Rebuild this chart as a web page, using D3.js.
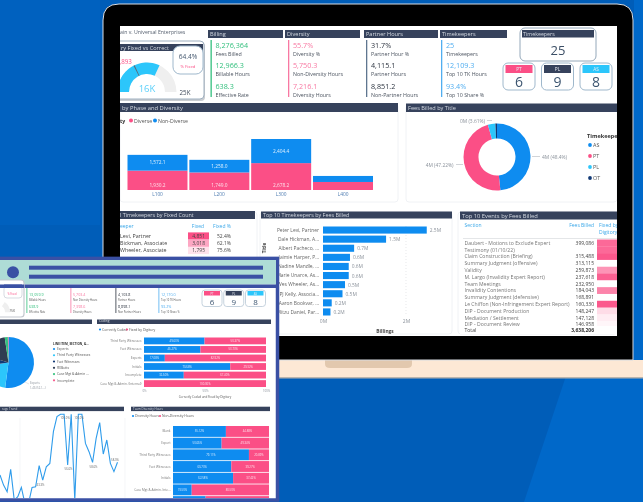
<!DOCTYPE html>
<html>
<head>
<meta charset="utf-8">
<script src="https://cdn.jsdelivr.net/npm/d3@7"></script>
<style>
  html, body { margin: 0; padding: 0; background: #0060be; overflow: hidden; }
  svg { display: block; }
  text { font-family: "Open Sans", sans-serif; }
  .axis path, .axis line { display: none; }
</style>
</head>
<body>
<svg id="chart" width="643" height="502"></svg>
<script>
// kpi cards on the monitor
const billingKpi = [['8,276,364', 'Fees Billed'], ['12,966.3', 'Billable Hours'], ['638.3', 'Effective Rate']]
const diversityKpi = [['55.7%', 'Diversity %'], ['5,750.3', 'Non-Diversity Hours'], ['7,216.1', 'Diversity Hours']]
const partnerKpi = [['31.7%', 'Partner Hour %'], ['4,115.1', 'Partner Hours'], ['8,851.2', 'Non-Partner Hours']]
const tkKpi = [['25', 'Timekeepers'], ['12,109.3', 'Top 10 TK Hours'], ['93.4%', 'Top 10 Share %']]
const titleCounts = [['PT', 6], ['PL', 9], ['AS', 8]]

// hours by phase
const phases = ['L100', 'L200', 'L300', 'L400']
const diverseHours = [1930.2, 1749.0, 2678.2, 800]
const nonDiverseHours = [1572.1, 1258.0, 2404.4, 600]

// fees by title
const titleNames = ['AS', 'PT', 'PL', 'OT']
const titleShare = [48.4, 47.22, 3.61, 0.77]

// timekeeper table
const fixedNames = ['Levi, Partner', 'Bickman, Associate', 'Wheeler, Associate']
const fixedCounts = [4851, 3018, 1795]
const fixedPct = ['52.4%', '62.1%', '75.6%']

// top 10 timekeepers
const topNames = ['Peter Levi, Partner', 'Dale Hickman, A...', 'Albert Pacheco, ...', 'Jaimie Harper, P...', 'Nadine Mandle, ...', 'Marie Unarce, As...', 'Wes Wheeler, As...', 'PJ Kelly, Associa...', 'Aaron Bookvar, ...', 'Mitzu Daniel, Par...']
const topFees = [2.5, 1.52, 0.75, 0.65, 0.62, 0.62, 0.53, 0.47, 0.21, 0.18]
const topLabels = ['2.5M', '1.5M', '0.7M', '0.6M', '0.6M', '0.6M', '0.5M', '0.5M', '0.2M', '0.2M']

// top 10 events
const eventNames = ['Daubert - Motions to Exclude Expert', 'Testimony (01/10/22)', 'Claim Construction (Briefing)', 'Summary Judgment (offensive)', 'Validity', 'M. Largo (Invalidity Expert Report)', 'Team Meetings', 'Invalidity Contentions', 'Summary Judgment (defensive)', 'Le Chiffon (Non-Infringement Expert Report)', 'DIP - Document Production', 'Mediation / Settlement', 'DIP - Document Review']
const eventFees = ['399,086', '', '315,488', '313,115', '259,873', '237,618', '232,950', '184,043', '168,891', '160,330', '148,247', '147,128', '146,958']
const eventFixed = [0.85, 0.85, 0.95, 0, 0.6, 0.9, 0, 0.7, 0, 0.95, 0.2, 0.1, 0.05]

// second window
const winKpi = [
  ['13,059.9', 'Billable Hours', '638.9', 'Effective Rate'],
  ['5,703.4', 'Non Diversity Hours', '7,398.6', 'Diversity Hours'],
  ['4,103.8', 'Partner Hours', '8,898.1', 'Non Partner Hours'],
  ['12,170.0', 'Top 10 TK Hours', '93.2%', 'Top 10 Share %']
]
const sectionNames = ['Experts', 'Third Party Witnesses', 'Fact Witnesses', 'RXBotts', 'Case Mgt & Admin ...', 'Incomplete']
const sectionShare = [52.1, 20.5, 7, 18, 2, 0.4]
const codingNames = ['Third Party Witnesses', 'Fact Witnesses', 'Experts', 'Initials', 'Incomplete', 'Case Mgt & Admin. (Internal)']
const codingCorrect = [49.63, 46.27, 17.08, 70.68, 32.6, 0]
const trendValues = [48, 39.4, 33.7, 52.9, 26.6, 29.4, 37.4, 23.7, 23.7, 37.4, 38, 56, 43.7, 55.1, 58, 85.1, 98, 100, 100, 56.6, 100, 26.6, 100, 100, 75.1, 68, 58.9, 79.4, 92.9, 66, 78, 58, 50.9, 58.9]
const teamNames = ['Blank', 'Expert', 'Third Party Witnesses', 'Fact Witnesses', 'Initials', 'Case Mgt & Admin. Inte...', 'Incomplete']
const teamDiversity = [55.12, 50.66, 79.11, 60.73, 62.58, 19.5, 34]

const PINK = '#fb4f86', BLUE = '#0e8cf0', SKY = '#2cc6fb', NAVY = '#36425c', INK = '#555f6e', GREY = '#8b929b'
const FRAME = '#3a50a4'

const svg = d3.select('#chart')
const defs = svg.append('defs')
defs.append('clipPath').attr('id', 'screenClip').append('rect')
  .attr('x', 120).attr('y', 26).attr('width', 497).attr('height', 310)
defs.append('clipPath').attr('id', 'winClip').append('rect')
  .attr('x', 0).attr('y', 260).attr('width', 276).attr('height', 238)

const root = svg.append('g').style('filter', 'blur(0.55px)')

function label(g, x, y, txt, size, fill, anchor, weight) {
  return g.append('text').attr('x', x).attr('y', y).text(txt)
    .attr('font-size', size).attr('fill', fill || INK)
    .attr('text-anchor', anchor || 'start').attr('font-weight', weight || 400)
}

function head(g, x, y, w, h, txt, size) {
  g.append('rect').attr('x', x).attr('y', y).attr('width', w).attr('height', h).attr('fill', NAVY)
  label(g, x + 2, y + h - 1.6, txt, size || 5.6, '#d5dae2')
}

function card(g, x, y, w, h) {
  g.append('rect').attr('x', x).attr('y', y).attr('width', w).attr('height', h).attr('rx', 3)
    .attr('fill', '#fff').attr('stroke', '#f0f2f5').attr('stroke-width', 1)
}

function dot(g, x, y, fill, r) {
  g.append('circle').attr('cx', x).attr('cy', y).attr('r', r || 1.8).attr('fill', fill)
}

// background
root.append('rect').attr('width', 643).attr('height', 502).attr('fill', '#005db8')
root.append('path').attr('d', 'M568,370 L643,370 L643,502 L524,502 Z').attr('fill', '#0068c9')
root.append('path').attr('d', 'M0,0 L100,0 L100,225 L0,225 Z').attr('fill', '#0061bf')
root.append('path').attr('d', 'M634,0 L643,0 L643,360 L634,360 Z').attr('fill', '#0068c9')

// base of the monitor
root.append('rect').attr('x', 100).attr('y', 360).attr('width', 543).attr('height', 18).attr('fill', '#fde8d5')
root.append('rect').attr('x', 100).attr('y', 377).attr('width', 543).attr('height', 1.5).attr('fill', '#b9b4ae')
root.append('path').attr('d', 'M325,360 H412 V364 Q412,368 407,368 H330 Q325,368 325,364 Z').attr('fill', '#e2c8ae')

// monitor body
root.append('path')
  .attr('d', 'M103,360 V20 Q103,4 119,4 H617 Q633,4 633,20 V360 Z')
  .attr('fill', '#000').attr('stroke', '#d8dce2').attr('stroke-width', 1)
root.append('rect').attr('x', 120).attr('y', 26).attr('width', 497).attr('height', 310).attr('fill', '#fff')

const screen = root.append('g').attr('clip-path', 'url(#screenClip)')

label(screen, 120, 33.5, 'ain v. Universal Enterprises', 5.2, INK)
head(screen, 208, 30, 75, 8, 'Billing')
head(screen, 285, 30, 75, 8, 'Diversity')
head(screen, 364, 30, 74, 8, 'Partner Hours')
head(screen, 440, 30, 67, 8, 'Timekeepers')

function kpiBlock(g, x, rows, color, valueSize, labelSize, rowYs, barTop, barBottom) {
  g.append('rect').attr('x', x).attr('y', barTop).attr('width', 1.3).attr('height', barBottom - barTop).attr('fill', color)
  rows.forEach((r, i) => {
    label(g, x + 5, rowYs[i], r[0], valueSize, color === '#5f7690' ? '#2d3440' : color)
    label(g, x + 5, rowYs[i] + 8.2, r[1], labelSize, '#4c5460')
  })
}
const kpiRows = [47.8, 67.8, 88.6]
kpiBlock(screen, 210.5, billingKpi, '#35c07f', 7.2, 5.3, kpiRows, 40, 97)
kpiBlock(screen, 288, diversityKpi, '#f878a2', 7.2, 5.3, kpiRows, 40, 97)
kpiBlock(screen, 366, partnerKpi, '#5f7690', 7.2, 5.3, kpiRows, 40, 97)
kpiBlock(screen, 441, tkKpi, '#51aef0', 7.2, 5.3, kpiRows, 40, 97)

// gauge card
screen.append('rect').attr('x', 105).attr('y', 42).attr('width', 100).attr('height', 59).attr('rx', 4).attr('fill', '#c9ccd0')
screen.append('rect').attr('x', 105).attr('y', 41).attr('width', 99).attr('height', 58).attr('rx', 4)
  .attr('fill', '#fff').attr('stroke', '#9fb0c0').attr('stroke-width', 1)
screen.append('rect').attr('x', 105).attr('y', 44).attr('width', 98).attr('height', 7).attr('fill', NAVY)
label(screen, 121, 49.8, 'ry Fixed vs Correct', 5.6, '#d5dae2')

const gaugeArc = d3.arc().innerRadius(18).outerRadius(29.5)
const gaugeScale = d3.scaleLinear().domain([0, 25]).range([-Math.PI / 2, Math.PI / 2])
const gauge = screen.append('g').attr('transform', 'translate(147,92)')
gauge.append('path').attr('d', gaugeArc({ startAngle: gaugeScale(0), endAngle: gaugeScale(25) })).attr('fill', '#efefef')
gauge.append('path').attr('d', gaugeArc({ startAngle: gaugeScale(0), endAngle: gaugeScale(16) })).attr('fill', SKY)
gauge.append('path').attr('d', gaugeArc({ startAngle: gaugeScale(8.9) - 0.02, endAngle: gaugeScale(8.9) + 0.02 })).attr('fill', '#5d6a78')
label(screen, 147, 92, '16K', 9.5, '#5cd0fa', 'middle')
label(screen, 185, 94.5, '25K', 6.2, '#3f4a5a', 'middle')
label(screen, 116, 64, '9,893', 6.2, PINK)

screen.append('rect').attr('x', 173).attr('y', 46).attr('width', 30).attr('height', 28).attr('rx', 7)
  .attr('fill', '#fff').attr('stroke', '#9fb8cc').attr('stroke-width', 1)
label(screen, 188, 58.5, '64.4%', 6.6, '#44586f', 'middle')
label(screen, 188, 68, '% Fixed', 4.2, PINK, 'middle')

// timekeeper cards
screen.append('rect').attr('x', 520).attr('y', 28).attr('width', 76).attr('height', 33).attr('rx', 5)
  .attr('fill', '#fff').attr('stroke', '#94a8ba').attr('stroke-width', 1)
screen.append('rect').attr('x', 522).attr('y', 30).attr('width', 72).attr('height', 7.5).attr('fill', NAVY)
label(screen, 523, 36, 'Timekeepers', 5.3, '#d5dae2')
label(screen, 558, 55, '25', 13, '#3c4f66', 'middle')

const countColor = { PT: PINK, PL: NAVY, AS: SKY }
const countX = d3.scalePoint().domain(titleCounts.map(d => d[0])).range([519, 596])
titleCounts.forEach(d => {
  const cx = countX(d[0])
  screen.append('rect').attr('x', cx - 16).attr('y', 63).attr('width', 32).attr('height', 27).attr('rx', 5)
    .attr('fill', '#fff').attr('stroke', '#9fb8cc').attr('stroke-width', 1)
  screen.append('rect').attr('x', cx - 13.5).attr('y', 65).attr('width', 27).attr('height', 8).attr('fill', countColor[d[0]])
  label(screen, cx, 71, d[0], 4.8, '#e8ecf2', 'middle')
  label(screen, cx, 87, d[1], 14, '#3c5570', 'middle')
})

// hours by phase and diversity
card(screen, 120, 104, 278, 98)
head(screen, 120, 103, 278, 9, 'by Phase and Diversity', 5.8)
label(screen, 120, 122.5, 'ty', 5.2, '#333', 'start', 700)
dot(screen, 131, 120.5, PINK, 2)
label(screen, 134, 122.5, 'Diverse', 5.2, '#555')
dot(screen, 155, 120.5, BLUE, 2)
label(screen, 158, 122.5, 'Non-Diverse', 5.2, '#555')

const phaseX = d3.scaleBand().domain(phases).range([127.5, 373]).paddingInner(0.03)
const phaseY = d3.scaleLinear().domain([0, 5082.6]).range([190, 139])
phases.forEach((p, i) => {
  const x = phaseX(p), w = phaseX.bandwidth()
  const split = phaseY(diverseHours[i]), top = phaseY(diverseHours[i] + nonDiverseHours[i])
  screen.append('rect').attr('x', x).attr('y', split).attr('width', w).attr('height', 190 - split).attr('fill', PINK)
  screen.append('rect').attr('x', x).attr('y', top).attr('width', w).attr('height', split - top).attr('fill', BLUE)
  if (i < 3) {
    const fmt = d3.format(',.1f')
    label(screen, x + w / 2, 186.5, fmt(diverseHours[i]), 4.8, '#fde0ea', 'middle')
    label(screen, x + w / 2, (split + top) / 2 + 1.5, fmt(nonDiverseHours[i]), 4.8, '#dff0fe', 'middle')
  }
})
screen.append('g').attr('class', 'axis').attr('transform', 'translate(0,190)')
  .call(d3.axisBottom(phaseX).tickSize(0).tickPadding(3))
  .selectAll('text').attr('font-size', 4.8).attr('fill', '#4c7bb0').style('font-family', '"Open Sans", sans-serif')

// fees by title
card(screen, 406, 105, 211, 97)
head(screen, 406, 103.5, 211, 8.5, 'Fees Billed by Title', 5.6)
const pie = d3.pie().sort(null)
const donut = d3.arc().innerRadius(18.5).outerRadius(33.5)
const titleColor = d3.scaleOrdinal().domain(titleNames).range([BLUE, PINK, SKY, '#123a76'])
screen.append('g').attr('transform', 'translate(497,157)')
  .selectAll('path').data(pie(titleShare)).join('path')
  .attr('d', donut).attr('fill', (d, i) => titleColor(titleNames[i]))
label(screen, 542, 158.5, '4M (48.4%)', 4.9, GREY)
label(screen, 453.5, 167, '4M (47.22%)', 4.9, GREY, 'end')
label(screen, 485, 122.5, '0M (3.61%)', 4.9, GREY, 'end')
;[[532, 156.5, 540, 156.5], [456, 164.5, 463, 164.5], [487, 120.5, 492, 120.5]].forEach(s => {
  screen.append('line').attr('x1', s[0]).attr('y1', s[1]).attr('x2', s[2]).attr('y2', s[3]).attr('stroke', '#c5c9ce').attr('stroke-width', 0.8)
})
label(screen, 587, 137.5, 'Timekeeper', 5.6, '#333', 'start', 700)
const titleLegendY = d3.scalePoint().domain(titleNames).range([145, 178])
titleNames.forEach(t => {
  dot(screen, 590, titleLegendY(t), titleColor(t), 1.9)
  label(screen, 593, titleLegendY(t) + 2, t, 5.4, '#555')
})

// fixed count table
card(screen, 116, 212, 141, 50)
head(screen, 118, 211, 137, 8, 'l Timekeepers by Fixed Count', 5.4)
label(screen, 120, 228, 'eeper', 5, '#3aa7e8')
label(screen, 198, 228, 'Fixed', 5, '#3aa7e8', 'middle')
label(screen, 222, 228, 'Fixed %', 5, '#3aa7e8', 'middle')
const fixedY = d3.scalePoint().domain(fixedNames).range([236, 250.5])
const fixedColor = d3.scaleLinear().domain([1500, 4851]).range(['#fff0f5', PINK])
fixedNames.forEach((n, i) => {
  screen.append('rect').attr('x', 188).attr('y', fixedY(n) - 3.6).attr('width', 21).attr('height', 7.2).attr('fill', fixedColor(fixedCounts[i]))
  label(screen, 120, fixedY(n) + 1.8, n, 5.3, '#444')
  label(screen, 205, fixedY(n) + 1.8, d3.format(',')(fixedCounts[i]), 5, '#444', 'end')
  label(screen, 231, fixedY(n) + 1.8, fixedPct[i], 5, '#444', 'end')
})

// top 10 timekeepers
card(screen, 260, 212, 192, 122)
head(screen, 261, 211.5, 191, 7, 'Top 10 Timekeepers by Fees Billed', 5.4)
const topX = d3.scaleLinear().domain([0, 2]).range([323, 406])
const topY = d3.scaleBand().domain(topNames).range([226.5, 315.5]).paddingInner(0.22)
screen.append('line').attr('x1', 406).attr('x2', 406).attr('y1', 226).attr('y2', 316)
  .attr('stroke', '#d6d9dc').attr('stroke-width', 0.6).attr('stroke-dasharray', '1,2')
topNames.forEach((n, i) => {
  const y = topY(n), h = topY.bandwidth()
  screen.append('rect').attr('x', topX(0)).attr('y', y).attr('width', topX(topFees[i]) - topX(0)).attr('height', h).attr('fill', BLUE)
  label(screen, 319, y + h / 2 + 1.8, n, 4.9, '#666', 'end')
  label(screen, topX(topFees[i]) + 3, y + h / 2 + 2, topLabels[i], 4.9, GREY)
})
screen.append('g').attr('class', 'axis').attr('transform', 'translate(0,316)')
  .call(d3.axisBottom(topX).tickValues([0, 2]).tickFormat(d => d + 'M').tickSize(0).tickPadding(3))
  .selectAll('text').attr('font-size', 5).attr('fill', GREY).style('font-family', '"Open Sans", sans-serif')
label(screen, 385, 333, 'Billings', 4.8, '#444', 'middle', 700)
label(screen, 0, 0, 'Title', 4.8, '#444', 'middle', 700).attr('transform', 'translate(266,248) rotate(-90)')

// top 10 events
card(screen, 458, 212, 159, 122)
head(screen, 460, 211.5, 157, 8, 'Top 10 Events by Fees Billed', 5.8)
label(screen, 464.5, 227, 'Section', 5, '#3aa7e8')
label(screen, 594, 227, 'Fees Billed', 5, '#3aa7e8', 'end')
label(screen, 599, 227, 'Fixed by', 5, '#3aa7e8')
label(screen, 599, 234, 'Digitory', 5, '#3aa7e8')
screen.append('line').attr('x1', 463).attr('x2', 617).attr('y1', 238.5).attr('y2', 238.5).attr('stroke', '#d8dbde').attr('stroke-width', 0.7)
const eventY = d3.scaleBand().domain(d3.range(eventNames.length)).range([239.5, 328]).paddingInner(0)
const eventColor = d3.scaleLinear().domain([0, 1]).range(['#fff', PINK])
eventNames.forEach((n, i) => {
  const y = eventY(i), h = eventY.bandwidth()
  screen.append('rect').attr('x', 597).attr('y', y).attr('width', 20).attr('height', h + 0.3).attr('fill', eventColor(eventFixed[i]))
  label(screen, 464.5, y + h / 2 + 1.8, n, 5.1, '#777')
  label(screen, 594, y + h / 2 + 1.8, eventFees[i], 5, '#444', 'end')
})
screen.append('rect').attr('x', 460).attr('y', 326).attr('width', 157).attr('height', 8).attr('fill', '#fff')
label(screen, 464.5, 332, 'Total', 5.1, '#444')
label(screen, 594, 332, '3,638,206', 5, '#333', 'end', 700)

// second window over the monitor
root.append('rect').attr('x', -3).attr('y', 258.4).attr('width', 280.5).attr('height', 241.6)
  .attr('fill', '#fff').attr('stroke', FRAME).attr('stroke-width', 3.5)
const win = root.append('g').attr('clip-path', 'url(#winClip)')
win.append('rect').attr('x', 0).attr('y', 260).attr('width', 276).attr('height', 24.5).attr('fill', '#aedcd6')
win.append('rect').attr('x', 0).attr('y', 284.5).attr('width', 276).attr('height', 3.5).attr('fill', FRAME)
win.append('circle').attr('cx', 13).attr('cy', 272.3).attr('r', 6).attr('fill', FRAME)
win.append('rect').attr('x', 29).attr('y', 265.7).attr('width', 234).attr('height', 4).attr('fill', FRAME)
win.append('rect').attr('x', 29).attr('y', 274.7).attr('width', 234).attr('height', 4).attr('fill', FRAME)

// gauge remains
win.append('rect').attr('x', -6).attr('y', 280).attr('width', 30).attr('height', 37).attr('rx', 3)
  .attr('fill', '#fff').attr('stroke', '#c4c8cf').attr('stroke-width', 1.2)
win.append('rect').attr('x', 0).attr('y', 284.5).attr('width', 24).attr('height', 3.5).attr('fill', FRAME)
win.append('rect').attr('x', 4).attr('y', 286).attr('width', 18).attr('height', 12).attr('rx', 3)
  .attr('fill', '#fff').attr('stroke', '#c7ccd6').attr('stroke-width', 0.7)
win.append('rect').attr('x', 4).attr('y', 284.5).attr('width', 18).attr('height', 3.5).attr('fill', FRAME)
label(win, 12, 295, '% Fixed', 2.6, PINK, 'middle')
label(win, 12, 312, '25K', 3.4, '#555', 'middle')
win.append('path').attr('d', d3.arc().innerRadius(7).outerRadius(12).startAngle(0.6).endAngle(1.6)()).attr('transform', 'translate(-2,312)').attr('fill', '#efefef')

const winColors = ['#35c07f', '#f878a2', '#2d3440', '#51aef0']
const winX = d3.scaleOrdinal().domain(d3.range(4)).range([29, 73, 118, 161])
winKpi.forEach((k, i) => {
  const x = winX(i)
  win.append('rect').attr('x', x - 2.5).attr('y', 288).attr('width', 0.8).attr('height', 25).attr('fill', winColors[i])
  label(win, x, 296, k[0], 3.7, winColors[i])
  label(win, x, 301, k[1], 2.6, '#555')
  label(win, x, 307.5, k[2], 3.7, winColors[i])
  label(win, x, 312.5, k[3], 2.6, '#555')
})

const winCountX = d3.scalePoint().domain(titleCounts.map(d => d[0])).range([212, 255.5])
titleCounts.forEach((d, i) => {
  const cx = winCountX(d[0])
  win.append('rect').attr('x', cx - 10).attr('y', 290).attr('width', 20).attr('height', 16.5).attr('rx', 3)
    .attr('fill', '#fff').attr('stroke', '#b8c8d6').attr('stroke-width', 0.8)
  win.append('rect').attr('x', cx - 8).attr('y', 291).attr('width', 16).attr('height', 4.5).attr('fill', countColor[d[0]])
  label(win, cx, 294.6, d[0], 2.8, '#e8ecf2', 'middle')
  label(win, cx, 304.5, [6, 9, 8][i], 8, '#3c5570', 'middle')
})

// sections pie
win.append('rect').attr('x', 0).attr('y', 319.5).attr('width', 92).attr('height', 4.5).attr('fill', NAVY)
const pieGroup = win.append('g').attr('transform', 'translate(8.5,362.5)')
const sectionColor = d3.scaleOrdinal().domain(sectionNames).range([BLUE, SKY, '#123a76', '#2f3c52', '#35c27f', '#f65a8c'])
pieGroup.selectAll('path').data(pie(sectionShare)).join('path')
  .attr('d', d3.arc().innerRadius(0).outerRadius(25.5)).attr('fill', (d, i) => sectionColor(sectionNames[i]))
win.append('line').attr('x1', 25).attr('y1', 382).attr('x2', 29).attr('y2', 384).attr('stroke', '#ccc').attr('stroke-width', 0.5)
label(win, 30, 384, 'Experts', 2.8, GREY)
label(win, 30, 388.5, '1.46 (52.1...)', 2.8, GREY)
label(win, 53, 345, 'LINE ITEM, SECTION, &...', 3, '#333', 'start', 700)
const sectionY = d3.scalePoint().domain(sectionNames).range([349, 380.3])
sectionNames.forEach(s => {
  dot(win, 54, sectionY(s), sectionColor(s), 1.1)
  label(win, 57, sectionY(s) + 1.2, s, 3.3, '#555')
})

// coding chart
head(win, 97, 319.5, 174, 4.5, 'Coding', 3.2)
dot(win, 100, 329.5, BLUE, 1.1)
label(win, 102, 330.7, 'Correctly Coded', 3.4, '#555')
dot(win, 127, 329.5, PINK, 1.1)
label(win, 129, 330.7, 'Fixed by Digitory', 3.4, '#555')

function stackBars(g, names, shares, x, y, labelSize, lastY) {
  names.forEach((n, i) => {
    const by = y(n), h = y.bandwidth(), mid = x(shares[i])
    g.append('rect').attr('x', x(0)).attr('y', by).attr('width', mid - x(0)).attr('height', h).attr('fill', BLUE)
    g.append('rect').attr('x', mid).attr('y', by).attr('width', x(100) - mid).attr('height', h).attr('fill', PINK)
    // a row that starts under the window's edge only shows its bar
    if (by + h > lastY) return
    label(g, x(0) - 2.5, by + h / 2 + 1, n, labelSize, '#777', 'end')
    if (shares[i] > 0) label(g, (x(0) + mid) / 2, by + h / 2 + 1, d3.format('.2f')(shares[i]) + '%', labelSize - 0.3, '#d8ecff', 'middle')
    label(g, (mid + x(100)) / 2, by + h / 2 + 1, d3.format('.2f')(100 - shares[i]) + '%', labelSize - 0.3, '#ffe0ea', 'middle')
  })
}
const codingX = d3.scaleLinear().domain([0, 100]).range([144, 266])
const codingY = d3.scaleBand().domain(codingNames).range([337.5, 387]).paddingInner(0.2)
stackBars(win, codingNames, codingCorrect, codingX, codingY, 3.1, 498)
win.append('g').attr('class', 'axis').attr('transform', 'translate(0,388)')
  .call(d3.axisBottom(codingX).tickValues([0, 50, 100]).tickFormat(d => d + '%').tickSize(0).tickPadding(2))
  .selectAll('text').attr('font-size', 3).attr('fill', GREY).style('font-family', '"Open Sans", sans-serif')
label(win, 205, 398, 'Correctly Coded and Fixed by Digitory', 3, '#555', 'middle')

// trend line
head(win, 0, 406.7, 124, 4.4, 'rage Trend', 3)
const trendX = d3.scaleLinear().domain([0, trendValues.length - 1]).range([0, 117.5])
const trendY = d3.scaleLinear().domain([56.6, 100]).range([465, 414.3])
;[20, 75, 125].forEach(v => {
  win.append('line').attr('x1', v).attr('x2', v).attr('y1', 418).attr('y2', 498).attr('stroke', '#eef0f3').attr('stroke-width', 0.6)
})
win.append('path').datum(trendValues)
  .attr('d', d3.line().x((d, i) => trendX(i)).y(d => trendY(d)))
  .attr('fill', 'none').attr('stroke', '#2f9ceb').attr('stroke-width', 1.1)
label(win, 65, 419, '100.0%', 2.8, '#666', 'middle')
label(win, 79, 419, '100.0%', 2.8, '#666', 'middle')
label(win, 68.5, 470, '56.6%', 2.8, '#666', 'middle')
label(win, 40.5, 486, '43.3%', 2.8, '#666', 'middle')
label(win, 93.5, 468, '58.6%', 2.8, '#666', 'middle')
label(win, 115, 461, '58.0%', 2.8, '#666', 'middle')

// team diversity
head(win, 131, 406.7, 139, 4.4, 'Team Diversity Hours', 3)
dot(win, 133, 416, BLUE, 1.1)
label(win, 135, 417.2, 'Diversity Hours', 3.4, '#555')
dot(win, 160, 416, PINK, 1.1)
label(win, 162, 417.2, 'Non-Diversity Hours', 3.4, '#555')
const teamX = d3.scaleLinear().domain([0, 100]).range([173, 269])
const teamY = d3.scaleBand().domain(teamNames).range([426, 507]).paddingInner(0.07)
stackBars(win, teamNames, teamDiversity, teamX, teamY, 3.1, 498)
</script>
</body>
</html>
